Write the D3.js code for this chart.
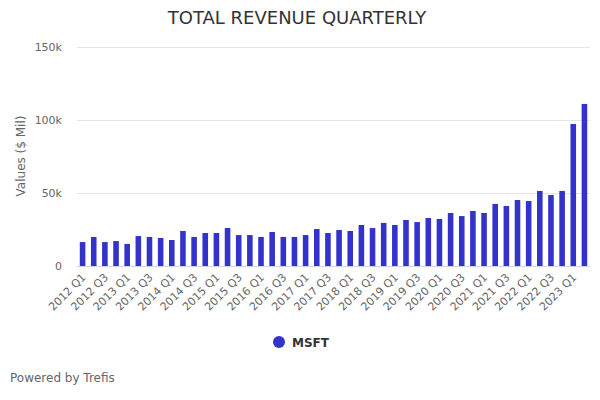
<!DOCTYPE html>
<html>
<head>
<meta charset="utf-8">
<script src="https://cdn.jsdelivr.net/npm/d3@7"></script>
<style>
  body { margin: 0; background: #fff; }
  svg { font-family: "DejaVu Sans", sans-serif; }
</style>
</head>
<body>
<svg id="chart" width="600" height="400"></svg>
<script>
const years = d3.range(2012, 2024);
const quarters = years.flatMap((y) => [1, 2, 3, 4].map((q) => `${y} Q${q}`)).slice(0, 46);
const revenue = [
  16.4, 19.9, 16.4, 17.1, 15.1, 20.5, 19.9, 19.2, 17.8, 24.0,
  19.9, 22.6, 22.6, 26.0, 21.2, 21.2, 19.9, 23.3, 19.9, 19.9,
  21.2, 25.3, 22.6, 24.7, 24.0, 28.1, 26.0, 29.5, 28.1, 31.5,
  30.1, 32.9, 32.2, 36.3, 34.2, 37.7, 36.3, 42.5, 41.1, 45.2,
  44.5, 51.4, 48.6, 51.4, 97.3, 111.0
].map((v) => v * 1000);
const yTicks = [0, 50000, 100000, 150000];
const seriesName = "MSFT";

const margin = { left: 77, right: 10, top: 47, bottom: 134 };
const width = 600, height = 400;
const barColor = "#3333cc";

const svg = d3.select("#chart");

const x = d3
  .scaleBand()
  .domain(quarters)
  .range([margin.left, width - margin.right])
  .paddingInner(0.5)
  .paddingOuter(0.25);

const y = d3
  .scaleLinear()
  .domain([0, 150000])
  .range([height - margin.bottom, margin.top]);

// title
svg
  .append("text")
  .attr("x", 297)
  .attr("y", 24)
  .attr("text-anchor", "middle")
  .style("font-size", "18px")
  .style("fill", "#333")
  .text("TOTAL REVENUE QUARTERLY");

// gridlines
svg
  .append("g")
  .selectAll("line")
  .data(yTicks.slice(1))
  .enter()
  .append("line")
  .attr("x1", margin.left)
  .attr("x2", width - margin.right)
  .attr("y1", (d) => y(d) + 0.5)
  .attr("y2", (d) => y(d) + 0.5)
  .attr("stroke", "#e6e6e6");

// y tick labels
svg
  .append("g")
  .selectAll("text")
  .data(yTicks)
  .enter()
  .append("text")
  .attr("x", 62)
  .attr("y", (d) => y(d) + 4)
  .attr("text-anchor", "end")
  .style("font-size", "11px")
  .style("fill", "#666")
  .text((d) => (d === 0 ? "0" : d / 1000 + "k"));

// y axis title
svg
  .append("text")
  .attr("transform", "translate(25,156) rotate(-90)")
  .attr("text-anchor", "middle")
  .style("font-size", "12px")
  .style("fill", "#666")
  .text("Values ($ Mil)");

// bars
svg
  .append("g")
  .selectAll("rect")
  .data(revenue)
  .enter()
  .append("rect")
  .attr("x", (d, i) => x(quarters[i]))
  .attr("y", (d) => y(d))
  .attr("width", x.bandwidth())
  .attr("height", (d) => y(0) - y(d))
  .style("fill", barColor);

// x axis baseline
svg
  .append("line")
  .attr("x1", margin.left)
  .attr("x2", width - margin.right)
  .attr("y1", y(0) + 0.5)
  .attr("y2", y(0) + 0.5)
  .attr("stroke", "#ccd6eb");

// x labels, every other quarter
svg
  .append("g")
  .selectAll("text")
  .data(quarters.filter((d, i) => i % 2 === 0))
  .enter()
  .append("text")
  .attr("transform", (d) => `translate(${x(d) + x.bandwidth() / 2 + 4},${y(0) + 12}) rotate(-45)`)
  .attr("text-anchor", "end")
  .style("font-size", "11px")
  .style("fill", "#666")
  .text((d) => d);

// legend
svg
  .append("circle")
  .attr("cx", 279)
  .attr("cy", 342)
  .attr("r", 6)
  .style("fill", barColor);

svg
  .append("text")
  .attr("x", 292)
  .attr("y", 347)
  .style("font-size", "12px")
  .style("font-weight", "bold")
  .style("fill", "#333")
  .text(seriesName);

// credit
svg
  .append("text")
  .attr("x", 10)
  .attr("y", 382)
  .style("font-size", "12px")
  .style("fill", "#666")
  .text("Powered by Trefis");
</script>
</body>
</html>
